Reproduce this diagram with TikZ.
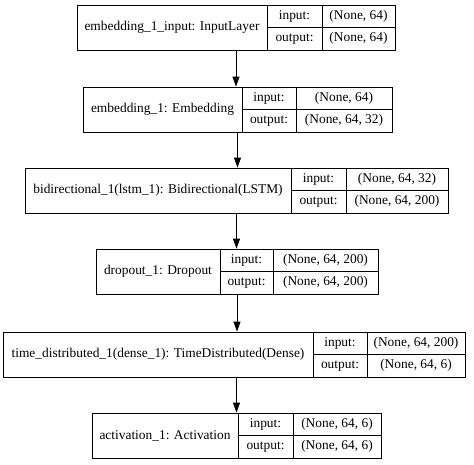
\documentclass[tikz,border=0pt]{standalone}
\usepackage{fontspec}
\setmainfont{Liberation Serif}
\usetikzlibrary{arrows.meta}

\begin{document}
\begin{tikzpicture}[x=1pt,y=-1pt,every node/.style={font=\fontsize{13.4}{15}\selectfont}]
                        \tikzstyle{layer}=[draw, line width=0.8pt, minimum height=45pt, inner sep=0pt]
                        \tikzstyle{cell}=[draw, line width=0.8pt, minimum height=22.5pt, inner sep=0pt]
                        \tikzstyle{flow}=[line width=0.8pt, -{Triangle[length=10pt,width=7pt]}]
                        \useasboundingbox (0,0) rectangle (474,464);
                        % embedding_1_input
                        \node[layer, minimum width=318pt] (l1) at (236,27.5) {};
                        \node[layer, minimum width=190pt] (l1name) at (172,27.5) {embedding\_1\_input: InputLayer};
                        \node[cell, minimum width=55pt] (l1in) at (294.5,16.25) {input:};
                        \node[cell, minimum width=73pt] (l1inv) at (358.5,16.25) {(None, 64)};
                        \node[cell, minimum width=55pt] (l1out) at (294.5,38.75) {output:};
                        \node[cell, minimum width=73pt] (l1outv) at (358.5,38.75) {(None, 64)};
                        % embedding_1
                        \node[layer, minimum width=309pt] (l2) at (237.5,109.5) {};
                        \node[layer, minimum width=159pt] (l2name) at (162.5,109.5) {embedding\_1: Embedding};
                        \node[cell, minimum width=54pt] (l2in) at (269,98.25) {input:};
                        \node[cell, minimum width=96pt] (l2inv) at (344,98.25) {(None, 64)};
                        \node[cell, minimum width=54pt] (l2out) at (269,120.75) {output:};
                        \node[cell, minimum width=96pt] (l2outv) at (344,120.75) {(None, 64, 32)};
                        % bidirectional_1
                        \node[layer, minimum width=423pt] (l3) at (236.5,190.5) {};
                        \node[layer, minimum width=266pt] (l3name) at (158,190.5) {bidirectional\_1(lstm\_1): Bidirectional(LSTM)};
                        \node[cell, minimum width=55pt] (l3in) at (318.5,179.25) {input:};
                        \node[cell, minimum width=102pt] (l3inv) at (397,179.25) {(None, 64, 32)};
                        \node[cell, minimum width=55pt] (l3out) at (318.5,201.75) {output:};
                        \node[cell, minimum width=102pt] (l3outv) at (397,201.75) {(None, 64, 200)};
                        % dropout_1
                        \node[layer, minimum width=282pt] (l4) at (237,271.5) {};
                        \node[layer, minimum width=124pt] (l4name) at (158,271.5) {dropout\_1: Dropout};
                        \node[cell, minimum width=53pt] (l4in) at (246.5,260.25) {input:};
                        \node[cell, minimum width=105pt] (l4inv) at (325.5,260.25) {(None, 64, 200)};
                        \node[cell, minimum width=53pt] (l4out) at (246.5,282.75) {output:};
                        \node[cell, minimum width=105pt] (l4outv) at (325.5,282.75) {(None, 64, 200)};
                        % time_distributed_1
                        \node[layer, minimum width=462pt] (l5) at (234,354.5) {};
                        \node[layer, minimum width=310pt] (l5name) at (158,354.5) {time\_distributed\_1(dense\_1): TimeDistributed(Dense)};
                        \node[cell, minimum width=54pt] (l5in) at (340,343.25) {input:};
                        \node[cell, minimum width=98pt] (l5inv) at (416,343.25) {(None, 64, 200)};
                        \node[cell, minimum width=54pt] (l5out) at (340,365.75) {output:};
                        \node[cell, minimum width=98pt] (l5outv) at (416,365.75) {(None, 64, 6)};
                        % activation_1
                        \node[layer, minimum width=289pt] (l6) at (236.5,435.5) {};
                        \node[layer, minimum width=146pt] (l6name) at (165,435.5) {activation\_1: Activation};
                        \node[cell, minimum width=55pt] (l6in) at (265.5,424.25) {input:};
                        \node[cell, minimum width=88pt] (l6inv) at (337,424.25) {(None, 64, 6)};
                        \node[cell, minimum width=55pt] (l6out) at (265.5,446.75) {output:};
                        \node[cell, minimum width=88pt] (l6outv) at (337,446.75) {(None, 64, 6)};
                        % arrows
                        \draw[flow] (l1.south) -- (l1.south |- l2.north);
                        \draw[flow] (l2.south) -- (l2.south |- l3.north);
                        \draw[flow] (l3.south) -- (l3.south |- l4.north);
                        \draw[flow] (l4.south) -- (l4.south |- l5.north);
                        \draw[flow] (l6.north |- l5.south) -- (l6.north);
                    \end{tikzpicture}
\end{document}
